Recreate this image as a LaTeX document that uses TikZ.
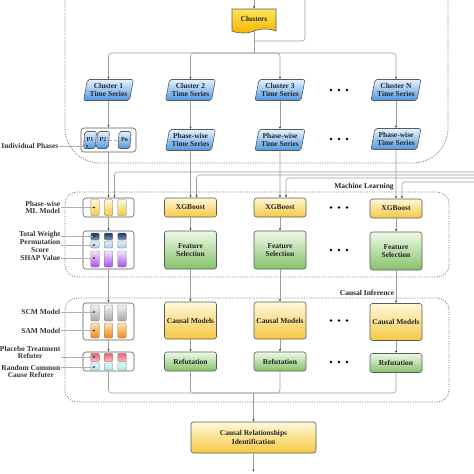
\documentclass[tikz,border=0pt]{standalone}
\usepackage{fontspec}
\setmainfont{Liberation Serif}
\usetikzlibrary{shapes.geometric,shapes.symbols,arrows.meta}

\definecolor{edgegray}{HTML}{5A5A5A}
\definecolor{linegray}{HTML}{9C9C9C}
\definecolor{yeltop}{HTML}{FFF8DA}
\definecolor{yelbot}{HTML}{F6C843}
\definecolor{grntop}{HTML}{EEF8E8}
\definecolor{grnbot}{HTML}{86C26A}
\definecolor{blutop}{HTML}{E6F2FF}
\definecolor{blubot}{HTML}{4F97E0}
\definecolor{clutop}{HTML}{FFE45A}
\definecolor{clubot}{HTML}{F4B400}
\definecolor{navytop}{HTML}{1F3A5A}
\definecolor{navybot}{HTML}{7C9CC0}
\definecolor{sktop}{HTML}{E2EFFA}
\definecolor{skbot}{HTML}{A9CDEE}
\definecolor{purtop}{HTML}{F2E4FF}
\definecolor{purbot}{HTML}{A64FEE}
\definecolor{grytop}{HTML}{F2F2F2}
\definecolor{grybot}{HTML}{A6A6A6}
\definecolor{orgtop}{HTML}{FFE2B4}
\definecolor{orgbot}{HTML}{EF8818}
\definecolor{redtop}{HTML}{E86474}
\definecolor{redbot}{HTML}{F7C2C8}
\definecolor{cyntop}{HTML}{DDFAFC}
\definecolor{cynbot}{HTML}{A6EAF2}

\begin{document}
\begin{tikzpicture}[x=1pt, y=-1pt,
    >={Latex[length=2.4pt,width=2.2pt,color=black!75]},
    txt/.style={font=\bfseries\fontsize{7.5}{8.2}\selectfont, align=center, text=black!85},
    box/.style={txt, draw=edgegray, line width=0.6pt, rounded corners=2.5pt, inner sep=1pt, minimum width=52pt},
    yelbox/.style={box, top color=yeltop, bottom color=yelbot},
    grnbox/.style={box, top color=grntop, bottom color=grnbot},
    tsbox/.style={txt, shape=trapezium, trapezium left angle=76, trapezium right angle=104,
        trapezium stretches=true, draw=edgegray, line width=0.6pt, rounded corners=2pt,
        top color=blutop, bottom color=blubot, minimum width=50pt, minimum height=21pt, inner sep=0.5pt},
    holder/.style={draw=edgegray, line width=0.6pt, rounded corners=3pt, fill=white, minimum width=51pt, inner sep=0},
    bar/.style={draw=edgegray!80, line width=0.4pt, rounded corners=1.2pt, minimum width=8.5pt, inner sep=0},
    lbl/.style={font=\bfseries\fontsize{7.5}{7.8}\selectfont, align=center, text=black!80, anchor=east, inner sep=0.5pt},
    lblline/.style={draw=linegray!80, line width=0.5pt},
    conn/.style={draw=linegray, line width=0.6pt, rounded corners=3pt},
    region/.style={draw=gray, line width=0.8pt, dash pattern=on 1.1pt off 1.3pt},
    dot/.style={fill=black, circle, inner sep=0, minimum size=1.8pt},
]
    \useasboundingbox (0,0) rectangle (474,474);

    % Dashed regions
    \draw[region, rounded corners=35pt] (65,-10) -- (65,163) -- (448,163) -- (448,-10);
    \draw[region, rounded corners=12pt] (65,192) rectangle (449,277);
    \draw[region, rounded corners=12pt] (65,298) rectangle (449,402);
    \node[txt] (mllbl) at (364,187) {Machine Learning};
    \node[txt] (cilbl) at (367,293) {Causal Inference};

    % Clusters
    \node[txt, shape=tape, tape bend top=none, tape bend bottom=in and out, tape bend height=4pt,
        draw=edgegray, line width=0.6pt, top color=clutop, bottom color=clubot,
        minimum width=44pt, minimum height=24pt] (clusters) at (254,19) {Clusters};

    % Cluster time series
    \node[tsbox] (c1) at (108.5,90) {Cluster 1\\Time Series};
    \node[tsbox] (c2) at (190.5,90) {Cluster 2\\Time Series};
    \node[tsbox] (c3) at (280,90) {Cluster 3\\Time Series};
    \node[tsbox] (cN) at (396,90) {Cluster N\\Time Series};

    % Phases
    \node[holder, minimum width=55pt, minimum height=24pt] (pw1) at (108.5,140) {};
    \node[tsbox, minimum width=13pt, minimum height=17pt, trapezium left angle=80, trapezium right angle=100,
        font=\bfseries\fontsize{6}{6.5}\selectfont] (p1) at (90,140) {P1};
    \node[tsbox, minimum width=13pt, minimum height=17pt, trapezium left angle=80, trapezium right angle=100,
        font=\bfseries\fontsize{6}{6.5}\selectfont] (p2) at (103,140) {P2};
    \node[tsbox, minimum width=13pt, minimum height=17pt, trapezium left angle=80, trapezium right angle=100,
        font=\bfseries\fontsize{6}{6.5}\selectfont] (pn) at (124.5,140) {Pn};
    \draw[lblline, densely dashed] (p2.east) -- (pn.west);
    \node[tsbox] (pw2) at (190.5,140) {Phase-wise\\Time Series};
    \node[tsbox] (pw3) at (280,140) {Phase-wise\\Time Series};
    \node[tsbox] (pwN) at (396,139) {Phase-wise\\Time Series};

    % Machine learning
    \node[holder, minimum height=19pt] (xg1) at (108.5,207.5) {};
    \foreach \bx/\b in {95/a,108.5/b,122/c}
        \node[bar, minimum height=16pt, top color=yeltop, bottom color=yelbot] (ml\b) at (\bx,207.5) {};
    \node[yelbox, minimum height=19pt] (xg2) at (190.5,207.5) {XGBoost};
    \node[yelbox, minimum height=19pt] (xg3) at (280,207.5) {XGBoost};
    \node[yelbox, minimum height=19pt] (xgN) at (396,208.5) {XGBoost};

    \node[holder, minimum height=38pt] (fs1) at (108.5,250) {};
    \foreach \bx/\b in {95/a,108.5/b,122/c} {
        \node[bar, minimum height=7pt, top color=navytop, bottom color=navybot] (tw\b) at (\bx,236.5) {};
        \node[bar, minimum height=7pt, top color=sktop, bottom color=skbot] (ps\b) at (\bx,244.5) {};
        \node[bar, minimum height=16pt, top color=purtop, bottom color=purbot] (sh\b) at (\bx,259) {};
    }
    \node[grnbox, minimum height=38pt] (fs2) at (190.5,250) {Feature\\Selection};
    \node[grnbox, minimum height=38pt] (fs3) at (280,250) {Feature\\Selection};
    \node[grnbox, minimum height=38pt] (fsN) at (396,251) {Feature\\Selection};

    % Causal inference
    \node[holder, minimum height=37pt] (cmo1) at (108.5,321.5) {};
    \foreach \bx/\b in {95/a,108.5/b,122/c} {
        \node[bar, minimum height=16pt, top color=grytop, bottom color=grybot] (scm\b) at (\bx,313) {};
        \node[bar, minimum height=15pt, top color=orgtop, bottom color=orgbot] (sam\b) at (\bx,330.5) {};
    }
    \node[yelbox, minimum height=37pt] (cmo2) at (190.5,320.5) {Causal Models};
    \node[yelbox, minimum height=37pt] (cmo3) at (280,320.5) {Causal Models};
    \node[yelbox, minimum height=37pt] (cmoN) at (396,322) {Causal Models};

    \node[holder, minimum height=19pt] (rf1) at (108.5,361.5) {};
    \foreach \bx/\b in {95/a,108.5/b,122/c} {
        \node[bar, minimum height=8.5pt, top color=redtop, bottom color=redbot] (plc\b) at (\bx,357.5) {};
        \node[bar, minimum height=7pt, top color=cyntop, bottom color=cynbot] (rcc\b) at (\bx,366.5) {};
    }
    \node[grnbox, minimum height=19pt] (rf2) at (190.5,361.5) {Refutation};
    \node[grnbox, minimum height=19pt] (rf3) at (280,361.5) {Refutation};
    \node[grnbox, minimum height=19pt] (rfN) at (396,363) {Refutation};

    \node[yelbox, minimum width=125pt, minimum height=31pt] (cri) at (253.5,437.5) {Causal Relationships\\Identification};

    % Dots between columns
    \foreach \dy in {90,139,207.5,250,320.5,362}
        \foreach \dx in {331,339,347}
            \fill (\dx,\dy) circle (1.3pt);

    % Side labels
    \node[dot] (dind) at (87,146) {};
    \node[dot] (dml) at (94,207.5) {};
    \node[dot] (dtw) at (94,236) {};
    \node[dot] (dps) at (94,245) {};
    \node[dot] (dsh) at (94,258) {};
    \node[dot] (dscm) at (94,312) {};
    \node[dot] (dsam) at (94,330.5) {};
    \node[dot] (dplc) at (94,357) {};
    \node[dot] (drcc) at (94,367) {};
    \node[lbl] (lind) at (59,146) {Individual Phases};
    \node[lbl] (lml) at (61,207.5) {Phase-wise\\ML Model};
    \node[lbl] (ltw) at (61,235) {Total Weight};
    \node[lbl] (lps) at (61,246) {Permutation\\Score};
    \node[lbl] (lsh) at (61,258) {SHAP Value};
    \node[lbl] (lscm) at (61,312) {SCM Model};
    \node[lbl] (lsam) at (61,331) {SAM Model};
    \node[lbl] (lplc) at (61,352.5) {Placebo Treatment\\Refuter};
    \node[lbl] (lrcc) at (61,371.5) {Random Common\\Cause Refuter};
    \foreach \d/\l in {dind/lind,dml/lml,dtw/ltw,dps/lps,dsh/lsh,dscm/lscm,dsam/lsam,dplc/lplc,drcc/lrcc}
        \draw[lblline] (\l.east |- \d) -- (\d);

    % Connectors
    \coordinate (topin) at (254,0);
    \coordinate (topin2) at (305,0);
    \coordinate (merge) at (254,41);
    \coordinate (busT) at (254,53);
    \draw[conn,->] (topin) -- (clusters.north);
    \draw[conn] (topin2) |- (merge);
    \draw[conn] (clusters.south) -- (busT);
    \foreach \k in {1,2,3,N} {
        \draw[conn,->] (busT) -| (c\k.north);
        \draw[conn,->] (c\k.south) -- (pw\k.north);
        \draw[conn,->] (pw\k.south) -- (xg\k.north);
        \draw[conn,->] (xg\k.south) -- (fs\k.north);
        \draw[conn,->] (fs\k.south) -- (cmo\k.north);
        \draw[conn,->] (cmo\k.south) -- (rf\k.north);
    }
    \foreach \k/\y in {1/172,2/175,3/178,N/182} {
        \coordinate (fb\k) at (474,\y);
        \draw[conn,->] (fb\k) -| ([xshift=6pt]xg\k.north);
    }
    \coordinate (busB) at (253.5,393);
    \coordinate (out) at (253.5,472);
    \foreach \k in {1,2,3,N}
        \draw[conn] (rf\k.south) |- (busB);
    \draw[conn,->] (busB) -- (cri.north);
    \draw[conn,->] (cri.south) -- (out);
\end{tikzpicture}
\end{document}
